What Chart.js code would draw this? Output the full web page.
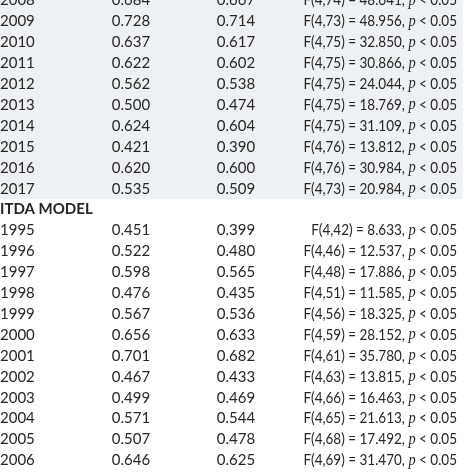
<!DOCTYPE html>
<html>
<head>
<meta charset="utf-8">
<script src="https://cdn.jsdelivr.net/npm/chart.js@4"></script>
<style>
  html, body { margin: 0; padding: 0; background: #fff; }
  canvas { display: block; }
</style>
</head>
<body>
<canvas id="myChart" width="474" height="474"></canvas>
<script>
// top block (shaded), then the ITDA block
const yearsTop = ['2008', '2009', '2010', '2011', '2012', '2013', '2014', '2015', '2016', '2017'];
const r2Top = ['0.684', '0.728', '0.637', '0.622', '0.562', '0.500', '0.624', '0.421', '0.620', '0.535'];
const adjTop = ['0.667', '0.714', '0.617', '0.602', '0.538', '0.474', '0.604', '0.390', '0.600', '0.509'];
const dfTop = [74, 73, 75, 75, 75, 75, 75, 76, 76, 73];
const fTop = ['48.641', '48.956', '32.850', '30.866', '24.044', '18.769', '31.109', '13.812', '30.984', '20.984'];

const sectionLabel = 'ITDA MODEL';
const yearsBottom = ['1995', '1996', '1997', '1998', '1999', '2000', '2001', '2002', '2003', '2004', '2005', '2006'];
const r2Bottom = ['0.451', '0.522', '0.598', '0.476', '0.567', '0.656', '0.701', '0.467', '0.499', '0.571', '0.507', '0.646'];
const adjBottom = ['0.399', '0.480', '0.565', '0.435', '0.536', '0.633', '0.682', '0.433', '0.469', '0.544', '0.478', '0.625'];
const dfBottom = [42, 46, 48, 51, 56, 59, 61, 63, 66, 65, 68, 69];
const fBottom = ['8.633', '12.537', '17.886', '11.585', '18.325', '28.152', '35.780', '13.815', '16.463', '21.613', '17.492', '31.470'];

// column anchors in x units (0..474)
const colYear = 0, colR2 = 131, colAdj = 236, colF = 457;

function buildRows() {
    let rows = [];
    yearsTop.forEach((y, i) => rows.push({ year: y, r2: r2Top[i], adj: adjTop[i], df: dfTop[i], f: fTop[i] }));
    rows.push({ label: sectionLabel });
    yearsBottom.forEach((y, i) => rows.push({ year: y, r2: r2Bottom[i], adj: adjBottom[i], df: dfBottom[i], f: fBottom[i] }));
    return rows;
}
const rows = buildRows();

const FONT = '"Lato", "Open Sans", sans-serif';
const BODY = '15px ' + FONT;
const PFONT = 'italic 16px "Liberation Serif", serif';
const F_SQUEEZE = 0.9;

const tablePlugin = {
    id: 'tableText',
    beforeDatasetsDraw(chart) {
        const ctx = chart.ctx, xs = chart.scales.x, ys = chart.scales.y;
        let top = ys.getPixelForValue(-0.5), bottom = ys.getPixelForValue(yearsTop.length - 0.5);
        ctx.save();
        ctx.fillStyle = '#eef1f3';
        ctx.fillRect(xs.getPixelForValue(0), top, xs.getPixelForValue(463) - xs.getPixelForValue(0), bottom - top);
        ctx.restore();
    },
    afterDatasetsDraw(chart) {
        const ctx = chart.ctx, xs = chart.scales.x, ys = chart.scales.y;
        ctx.save();
        ctx.fillStyle = '#262626';
        ctx.textBaseline = 'middle';
        rows.forEach((r, i) => {
            let py = ys.getPixelForValue(i);
            if (r.label) {
                ctx.font = 'bold 15px ' + FONT;
                ctx.textAlign = 'left';
                ctx.fillText(r.label, xs.getPixelForValue(colYear), py);
                return;
            }
            ctx.font = BODY;
            ctx.textAlign = 'left';
            ctx.fillText(r.year, xs.getPixelForValue(colYear), py);
            ctx.textAlign = 'center';
            ctx.fillText(r.r2, xs.getPixelForValue(colR2), py);
            ctx.fillText(r.adj, xs.getPixelForValue(colAdj), py);
            // F column, right aligned, italic p, slightly condensed
            let head = 'F(4,' + r.df + ') = ' + r.f + ', ';
            let tail = ' < 0.05';
            ctx.textAlign = 'left';
            let wHead = ctx.measureText(head).width;
            let wTail = ctx.measureText(tail).width;
            ctx.font = PFONT;
            let wP = ctx.measureText('p').width;
            let xr = xs.getPixelForValue(colF);
            ctx.save();
            ctx.translate(xr, py);
            ctx.scale(F_SQUEEZE, 1);
            let x0 = -(wHead + wP + wTail);
            ctx.font = BODY;
            ctx.fillText(head, x0, 0);
            ctx.font = PFONT;
            ctx.fillText('p', x0 + wHead, 0);
            ctx.font = BODY;
            ctx.fillText(tail, x0 + wHead + wP, 0);
            ctx.restore();
        });
        ctx.restore();
    }
};

new Chart(document.getElementById('myChart'), {
    type: 'scatter',
    data: {
        datasets: [{
            data: rows.map((r, i) => ({ x: colYear, y: i })),
            pointRadius: 0,
            showLine: false
        }]
    },
    options: {
        responsive: false,
        animation: false,
        layout: { padding: 0 },
        plugins: { legend: { display: false }, tooltip: { enabled: false } },
        scales: {
            x: { type: 'linear', min: 0, max: 474, display: false },
            y: { type: 'linear', reverse: true, min: -0.03, max: 22.65, display: false }
        }
    },
    plugins: [tablePlugin]
});
</script>
</body>
</html>
